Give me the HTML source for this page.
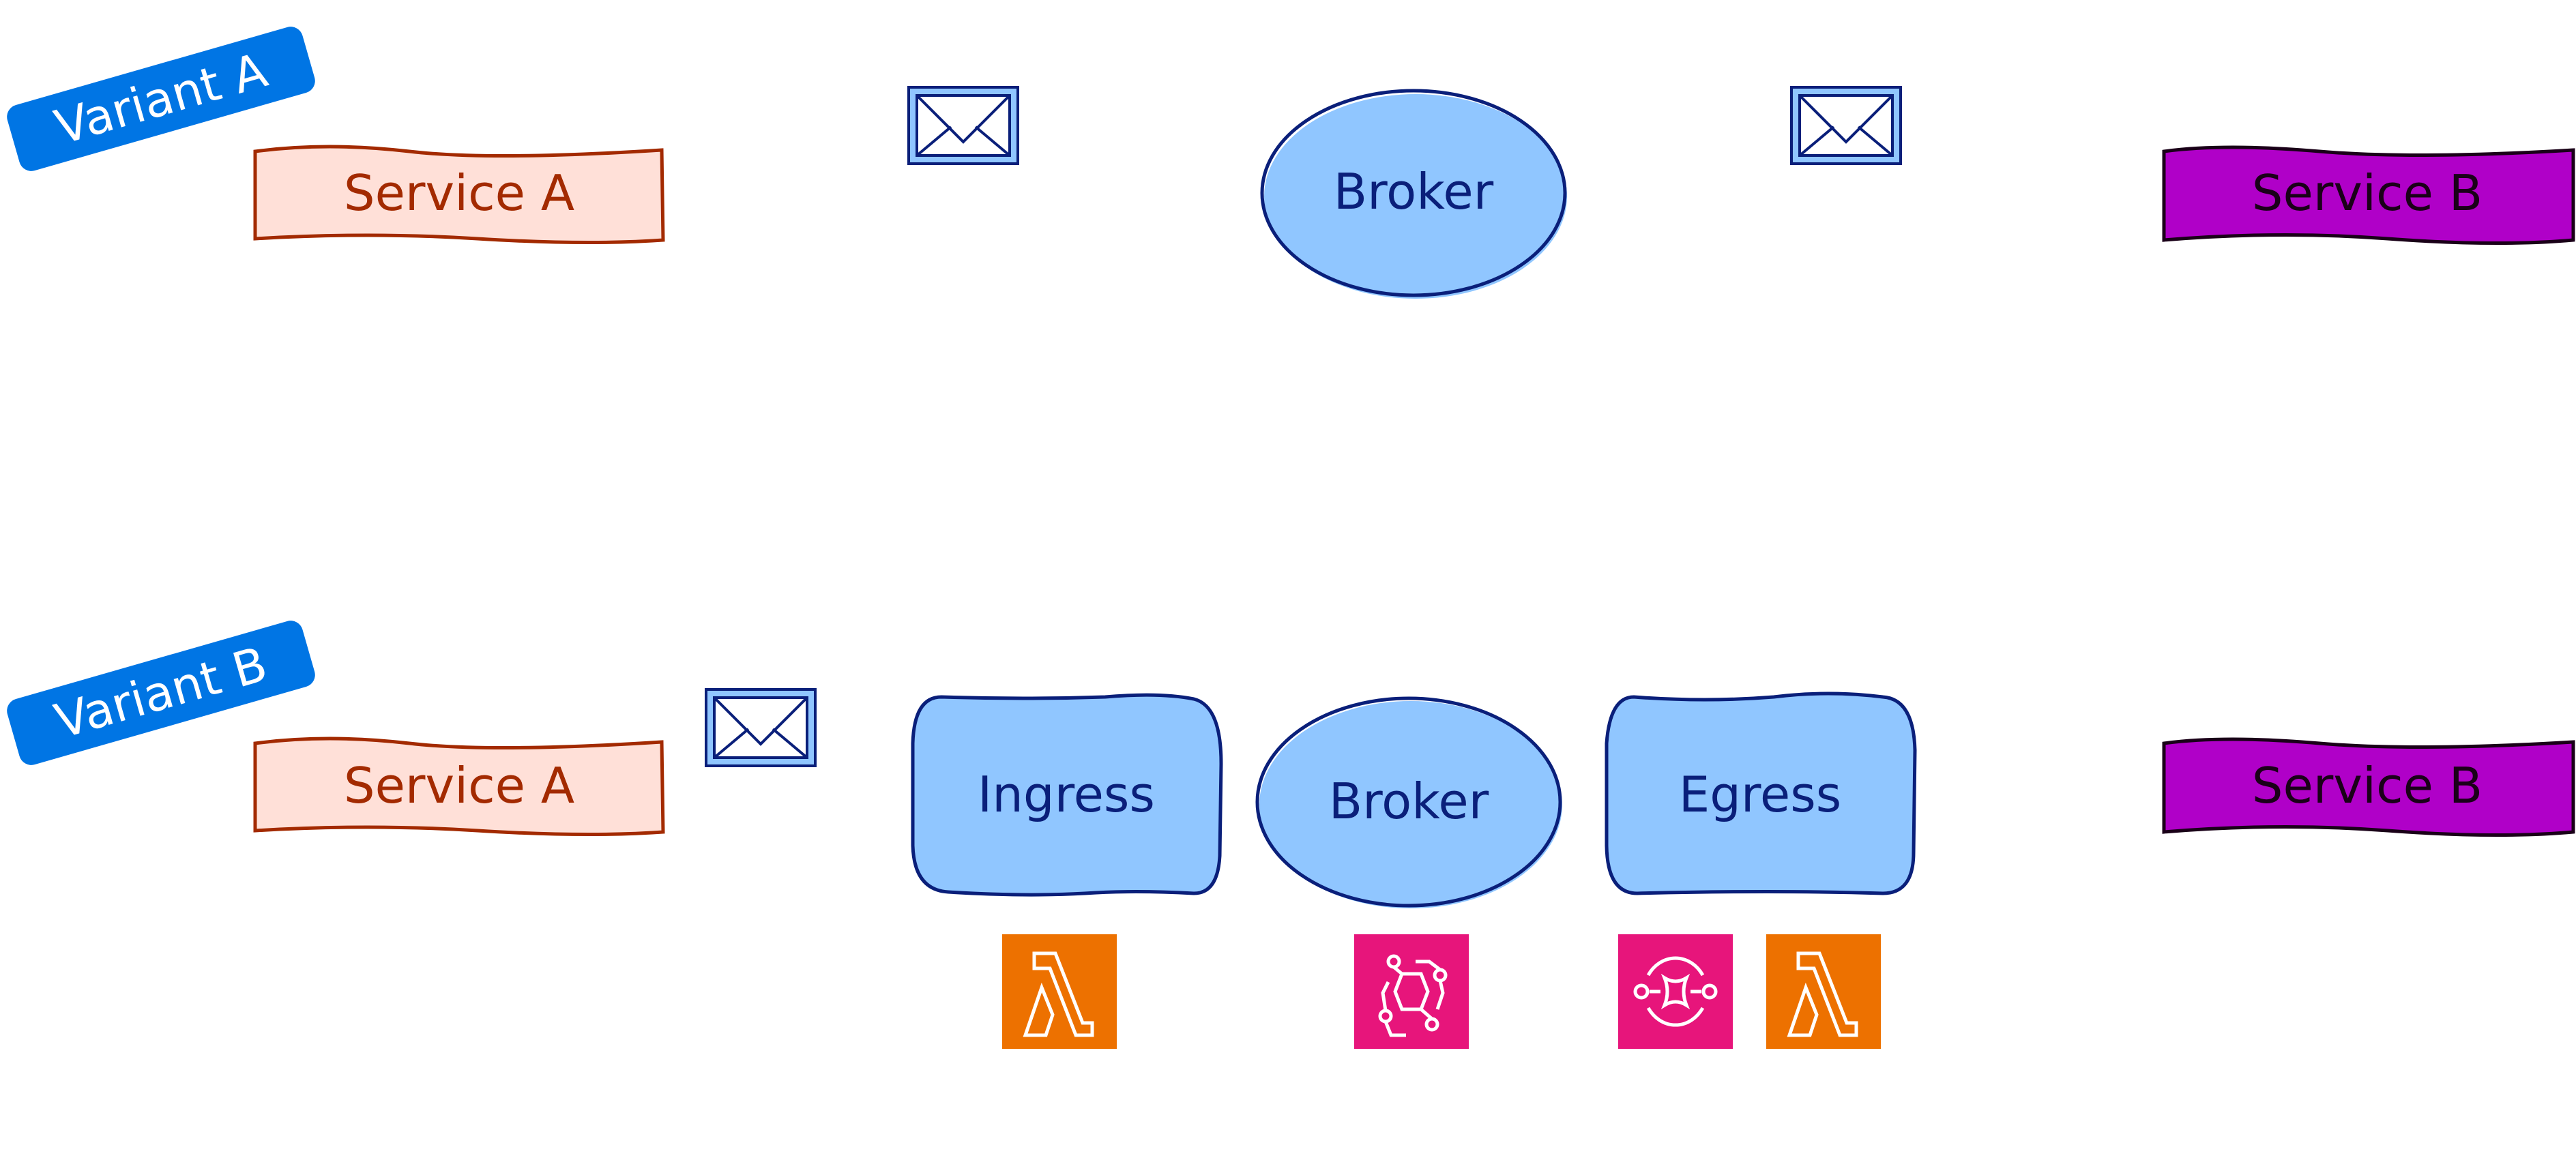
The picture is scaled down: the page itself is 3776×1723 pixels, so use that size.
<!DOCTYPE html>
<html><head><meta charset="utf-8"><style>
html,body{margin:0;padding:0;background:#fff;}
svg{display:block;}
text{font-family:"DejaVu Sans","Liberation Sans",sans-serif;}
</style></head><body>
<svg width="3776" height="1723" viewBox="0 0 3776 1723" xmlns="http://www.w3.org/2000/svg">
<defs>
<g id="env" stroke="#0a1f7a" stroke-width="4" fill="none">
<rect x="0" y="0" width="160" height="112" fill="#90c6ff"/>
<rect x="12" y="12" width="136" height="88" fill="#fff"/>
<path d="M12,12 L80,80 L148,12 M12,100 L62,58 M148,100 L98,58"/>
</g>
<g id="lam">
<rect x="0" y="0" width="168" height="168" fill="#ed7100"/>
<path d="M47,28 L78,28 L118,130 L132,130 L132,148 L108,148 L70,50 L47,50 Z M58,78 L74,118 L64,148 L34,148 Z" fill="none" stroke="#fff" stroke-width="5"/>
</g>
</defs>
<g transform="translate(236,145) rotate(-16)">
<rect x="-225" y="-50" width="450" height="100" rx="18" fill="#0075e4"/>
<text x="0" y="24" text-anchor="middle" font-size="70" fill="#fff">Variant A</text>
</g>
<g transform="translate(236,1016) rotate(-16)">
<rect x="-225" y="-50" width="450" height="100" rx="18" fill="#0075e4"/>
<text x="0" y="24" text-anchor="middle" font-size="70" fill="#fff">Variant B</text>
</g>

<path d="M374,222 Q480,208 600,222 T970,220 L972,352 Q860,360 700,350 T374,350 Z" fill="#ffe0d8" stroke="#a32a00" stroke-width="5"/>
<text x="673" y="308" text-anchor="middle" font-size="72" fill="#a32a00">Service A</text>
<path d="M374,1090 Q480,1076 600,1090 T970,1088 L972,1220 Q860,1228 700,1218 T374,1218 Z" fill="#ffe0d8" stroke="#a32a00" stroke-width="5"/>
<text x="673" y="1177" text-anchor="middle" font-size="72" fill="#a32a00">Service A</text>

<path d="M3172,222 Q3260,210 3400,222 T3772,220 L3772,352 Q3660,362 3500,350 T3172,352 Z" fill="#b000c8" stroke="#1a0018" stroke-width="5"/>
<text x="3470" y="308" text-anchor="middle" font-size="72" fill="#1a0018">Service B</text>
<path d="M3172,1090 Q3260,1078 3400,1090 T3772,1088 L3772,1220 Q3660,1230 3500,1218 T3172,1220 Z" fill="#b000c8" stroke="#1a0018" stroke-width="5"/>
<text x="3470" y="1177" text-anchor="middle" font-size="72" fill="#1a0018">Service B</text>

<use href="#env" transform="translate(1332,128)"/>
<use href="#env" transform="translate(2626,128)"/>
<use href="#env" transform="translate(1035,1011)"/>

<ellipse cx="2075" cy="288" rx="222" ry="150" fill="#90c6ff"/>
<ellipse cx="2072" cy="283" rx="222" ry="150" fill="none" stroke="#0a1f7a" stroke-width="5"/>
<text x="2072" y="306" text-anchor="middle" font-size="72" fill="#0a1f7a">Broker</text>
<ellipse cx="2068" cy="1180" rx="222" ry="152" fill="#90c6ff"/>
<ellipse cx="2065" cy="1176" rx="222" ry="152" fill="none" stroke="#0a1f7a" stroke-width="5"/>
<text x="2065" y="1200" text-anchor="middle" font-size="72" fill="#0a1f7a">Broker</text>

<path d="M1380,1022 Q1500,1026 1620,1022 Q1700,1015 1750,1025 Q1790,1035 1790,1120 L1788,1255 Q1785,1310 1750,1310 Q1660,1305 1590,1310 Q1500,1315 1390,1308 Q1340,1305 1338,1240 L1338,1090 Q1340,1022 1380,1022 Z" fill="#90c6ff" stroke="#0a1f7a" stroke-width="5"/>
<text x="1563" y="1190" text-anchor="middle" font-size="72" fill="#0a1f7a">Ingress</text>
<path d="M2395,1022 Q2500,1030 2600,1022 Q2680,1012 2760,1022 Q2805,1025 2807,1100 L2805,1250 Q2805,1310 2760,1310 Q2600,1305 2400,1310 Q2356,1310 2355,1240 L2355,1090 Q2360,1022 2395,1022 Z" fill="#90c6ff" stroke="#0a1f7a" stroke-width="5"/>
<text x="2580" y="1190" text-anchor="middle" font-size="72" fill="#0a1f7a">Egress</text>

<use href="#lam" transform="translate(1469,1370)"/>
<use href="#lam" transform="translate(2589,1370)"/>
<g transform="translate(1985,1370)">
<rect x="0" y="0" width="168" height="168" fill="#e7157b"/>
<g fill="none" stroke="#fff" stroke-width="5">
<polygon points="70,58 98,58 108,84 98,110 70,110 60,84"/>
<circle cx="58" cy="40" r="8"/><circle cx="126" cy="60" r="8"/><circle cx="46" cy="120" r="8"/><circle cx="114" cy="132" r="8"/>
<path d="M58,48 L70,58 M90,40 L110,40 L126,52 M50,70 L42,86 L46,112 M126,68 L130,86 L122,110 M46,128 L54,148 L76,148 M98,110 L114,124"/>
</g></g>
<g transform="translate(2372,1370)">
<rect x="0" y="0" width="168" height="168" fill="#e7157b"/>
<g fill="none" stroke="#fff" stroke-width="5">
<path d="M44,60 A48,56 0 0 1 124,60 M44,108 A48,56 0 0 0 124,108"/>
<circle cx="34" cy="84" r="9"/><circle cx="134" cy="84" r="9"/>
<path d="M68,64 Q84,74 100,64 Q92,84 100,104 Q84,94 68,104 Q76,84 68,64 Z"/>
<path d="M46,84 L62,84 M106,84 L122,84"/>
</g></g>
</svg>
</body></html>
